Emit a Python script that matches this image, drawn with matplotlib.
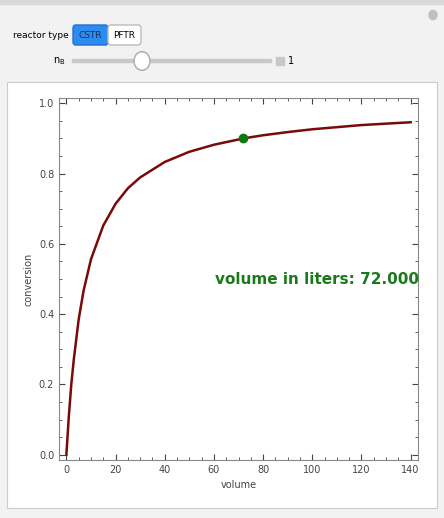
import matplotlib
matplotlib.use("Agg")
import matplotlib.pyplot as plt
from matplotlib.patches import FancyBboxPatch, Rectangle, Circle
from matplotlib.ticker import MultipleLocator

volume = [0, 1, 2, 3, 5, 7, 10, 15, 20, 25, 30, 40, 50, 60, 72, 80, 90, 100, 110, 120, 130, 140]
conversion = [0, 0.11, 0.20, 0.27, 0.385, 0.467, 0.556, 0.652, 0.714, 0.758, 0.789, 0.833, 0.862, 0.882, 0.900, 0.909, 0.918, 0.926, 0.932, 0.938, 0.942, 0.946]
point_v, point_x = 72, 0.900
label = "volume in liters: 72.000"

W, H = 444, 518
fig = plt.figure(figsize=(W/100, H/100), dpi=100)
fig.patch.set_facecolor("#f2f2f2")
def fx(px): return px / W
def fy(py): return 1 - py / H

fig.add_artist(Rectangle((0, fy(4)), 1, 4/H, transform=fig.transFigure, color="#d8d8d8"))
fig.add_artist(Circle((fx(433), fy(15)), 4/W, transform=fig.transFigure, color="#c0c0c0"))
fig.text(fx(13), fy(35), "reactor type", fontsize=6.5, va="center", ha="left")
fig.add_artist(FancyBboxPatch((fx(73), fy(45)), 35/W, 20/H, boxstyle="round,pad=0,rounding_size=0.006",
                              transform=fig.transFigure, fc="#2d8cf0", ec="#1f6fd0"))
fig.add_artist(FancyBboxPatch((fx(108), fy(45)), 33/W, 20/H, boxstyle="round,pad=0,rounding_size=0.006",
                              transform=fig.transFigure, fc="white", ec="#bbbbbb"))
fig.text(fx(90.5), fy(35), "CSTR", fontsize=6.5, va="center", ha="center", color="#10305a")
fig.text(fx(124.5), fy(35), "PFTR", fontsize=6.5, va="center", ha="center")
fig.text(fx(53), fy(61), r"n$_\mathrm{B}$", fontsize=7, va="center", ha="left")
fig.add_artist(Rectangle((fx(72), fy(62)), 199/W, 3/H, transform=fig.transFigure, color="#c8c8c8"))
fig.add_artist(Circle((fx(142), fy(61)), 8/W, transform=fig.transFigure, fc="white", ec="#aaaaaa"))
fig.add_artist(Rectangle((fx(276), fy(65)), 8/W, 8/H, transform=fig.transFigure, color="#c8c8c8"))
fig.text(fx(288), fy(61), "1", fontsize=7, va="center", ha="left")
panel = Rectangle((fx(7), fy(508)), 430/W, 426/H, transform=fig.transFigure, fc="white", ec="#cccccc", lw=0.8)
panel.set_zorder(-5)
fig.add_artist(panel)

ax = fig.add_axes([fx(59), fy(460), (418-59)/W, (460-98)/H])
ax.set_zorder(2)
ax.patch.set_alpha(0)
ax.plot(volume, conversion, color="#7a0a0a", lw=1.8)
ax.plot([point_v], [point_x], "o", color="#0a7a0a", ms=6)
ax.text(0.72, 0.50, label, transform=ax.transAxes, color="#1a7a1a", fontsize=11, fontweight="bold",
        ha="center", va="center")
ax.set_xlim(-3, 143)
ax.set_ylim(-0.015, 1.015)
ax.xaxis.set_major_locator(MultipleLocator(20))
ax.xaxis.set_minor_locator(MultipleLocator(5))
ax.yaxis.set_major_locator(MultipleLocator(0.2))
ax.yaxis.set_minor_locator(MultipleLocator(0.05))
ax.yaxis.set_major_formatter(matplotlib.ticker.FormatStrFormatter("%.1f"))
ax.tick_params(which="both", direction="in", top=True, right=True, labelsize=7, colors="#444444")
ax.tick_params(which="major", length=4)
ax.tick_params(which="minor", length=2)
for s in ax.spines.values():
    s.set_color("#888888")
ax.set_xlabel("volume", fontsize=7, color="#444444")
ax.set_ylabel("conversion", fontsize=7, color="#444444")
fig.savefig("out.png", dpi=100, facecolor=fig.get_facecolor())
